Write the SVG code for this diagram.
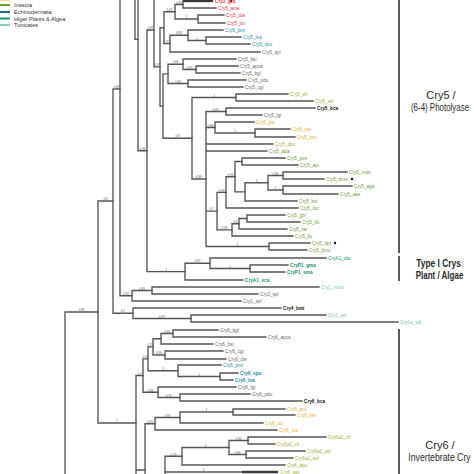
<svg xmlns="http://www.w3.org/2000/svg" width="474" height="474" viewBox="0 0 474 474">
<style>
.t{stroke:#555;stroke-width:1.35;fill:none;stroke-linecap:square}
.thick{stroke:#3a3a3a;stroke-width:2.4;fill:none}
.br{stroke:#4a4a4a;stroke-width:1.8}
text{font-family:"Liberation Sans",Arial,sans-serif}
.lf{font-size:4.7px}
.s{font-size:3px;fill:#555;text-anchor:middle}
.r{fill:#e8344c}.e{fill:#2a8c9c}.g{fill:#6b6b6b}.y{fill:#a9b23a}.o{fill:#e2b23a}.i{fill:#6f9b3e}.p{fill:#17936e}.u{fill:#7cc4a6}.k{fill:#111;font-weight:bold}.b{font-weight:bold}
.lg{font-size:5.6px;fill:#333}
.cl{font-size:11px;fill:#2a2a2a;text-anchor:middle}
.clb{font-size:10px;fill:#2a2a2a;font-weight:bold;text-anchor:middle}
</style>
<rect width="474" height="474" fill="#fff"/>
<g id="legend">
<rect x="0" y="-1" width="10" height="1.6" fill="#d9c86a"/>
<rect x="0" y="4" width="10" height="2" fill="#6f9b3e"/><text class="lg" x="14" y="7">Insecta</text>
<rect x="0" y="11" width="10" height="2" fill="#1d6e7e"/><text class="lg" x="14" y="14">Echinodermata</text>
<rect x="0" y="17.5" width="10" height="2" fill="#17936e"/><text class="lg" x="14" y="20.5">Higer Plants &amp; Algea</text>
<rect x="0" y="24" width="10" height="2" fill="#8ccfae"/><text class="lg" x="14" y="27">Tunicates</text>
</g>
<g id="connectors">
<path class="t" d="M65 312V474M65 312H98"/>
<path class="t" d="M98 201V423M98 201H113M98 423H136"/>
<path class="t" d="M113 89V313.25M113 89H120M113 313.25H133"/>
<path class="t" d="M120 0V295.75M120 295.75H132"/>
<path class="t" d="M135 0V39.4H138"/>
<path class="t" d="M138 0V150.7H147"/>
<path class="t" d="M147 30V271.6M147 30H154M147 271.6H185"/>
<path class="t" d="M154 0V66.9H160"/>
<path class="t" d="M160 27.7V106.1M160 27.7H164M160 106.1H163"/>
<path class="t" d="M164 11.75V43.6M164 11.75H175M164 43.6H170"/>
<path class="t" d="M175 4.5V19M175 4.5H183M175 19H198"/>
<path class="t" d="M183 1V8M183 8H216"/>
<path class="thick" d="M183 1H213"/>
<path class="t" d="M198 15V23M198 15H224M198 23H225"/>
<path class="t" d="M170 35.25V52M170 35.25H188M170 52H260"/>
<path class="t" d="M188 30V40.5M188 30H223M188 40.5H206"/>
<path class="t" d="M206 37V44M206 37H241M206 44H250"/>
<path class="t" d="M163 73.9V138.25M163 73.9H168M163 138.25H192"/>
<path class="t" d="M168 64.25V83.5M168 64.25H183M168 83.5H188"/>
<path class="t" d="M183 59V69.5M183 59H236M183 69.5H196"/>
<path class="t" d="M196 66V73M196 66H238M196 73H240"/>
<path class="t" d="M188 80V87M188 80H246M188 87H243"/>
<path class="t" d="M192 97.5V179M192 97.5H236M192 179H206"/>
<path class="t" d="M236 94V101M236 94H288M236 101H313"/>
<path class="t" d="M206 111.5V246.5M206 111.5H226M206 127.5H215M206 144H273M206 151H267M206 211.1H217M206 246.5H269"/>
<path class="t" d="M226 108V115M226 108H315M226 115H262"/>
<path class="t" d="M215 122V133M215 122H254M215 133H255"/>
<path class="t" d="M255 129V137M255 129H290M255 137H295"/>
<path class="t" d="M217 192.35V229.9M217 192.35H226M217 229.9H232"/>
<path class="t" d="M226 176.7V208M226 176.7H235M226 208H298"/>
<path class="t" d="M235 161.5V191.9M235 161.5H242M235 191.9H245"/>
<path class="t" d="M242 158V165M242 158H285M242 165H298"/>
<path class="t" d="M245 182.75V201M245 182.75H268M245 201H297"/>
<path class="t" d="M268 175.5V190M268 175.5H283M268 190H283"/>
<path class="t" d="M283 172V179M283 172H347M283 179H324"/>
<path class="t" d="M283 186V194M283 186H352M283 194H338"/>
<path class="t" d="M232 223.75V236M232 223.75H239M232 236H293"/>
<path class="t" d="M239 218.5V229M239 218.5H247M239 229H287"/>
<path class="t" d="M247 215V222M247 215H285M247 222H300"/>
<path class="t" d="M269 243V250M269 243H310M269 250H307"/>
<path class="t" d="M185 263.25V280M185 263.25H210M185 280H243"/>
<path class="t" d="M210 258V268.5M210 258H326M210 268.5H250"/>
<path class="t" d="M250 265V272M250 265H288M250 272H285"/>
<path class="t" d="M132 290.5V301M132 290.5H152M132 301H241"/>
<path class="t" d="M152 287V294M152 287H319M152 294H258"/>
<path class="t" d="M133 308V318.5M133 308H281M133 318.5H191"/>
<path class="t" d="M191 315V322M191 315H326M191 322H398"/>
<path class="t" d="M136 375.5V474M136 375.5H143M136 470H145"/>
<path class="t" d="M143 358.8V392.25M143 358.8H148M143 392.25H158"/>
<path class="t" d="M148 346.9V370.75M148 346.9H153M148 370.75H178"/>
<path class="t" d="M153 338.75V355M153 338.75H161M153 355H165"/>
<path class="t" d="M161 333.5V344M161 333.5H173M161 344H213"/>
<path class="t" d="M173 330V337M173 330H218M173 337H266"/>
<path class="t" d="M165 351V359M165 351H223M165 359H226"/>
<path class="t" d="M178 365V376.5M178 365H221M178 376.5H220"/>
<path class="t" d="M220 373V380M220 373H238M220 380H233"/>
<path class="t" d="M158 387V397.5M158 387H236M158 397.5H180"/>
<path class="t" d="M180 394V401M180 394H250M180 401H302"/>
<path class="t" d="M145 423.75V474M145 423.75H155"/>
<path class="t" d="M155 417.5V430M155 417.5H180M155 430H277"/>
<path class="t" d="M180 412V423M180 412H233M180 423H263"/>
<path class="t" d="M233 409V415M233 409H285M233 415H295"/>
<path class="t" d="M165 456.25V474M165 456.25H182M165 472H242"/>
<path class="thick" d="M242 472H278"/>
<path class="t" d="M182 447.5V465M182 447.5H229M182 465H285"/>
<path class="t" d="M229 440.5V454.5M229 440.5H248M229 454.5H246"/>
<path class="t" d="M248 437V444M248 437H326M248 444H275"/>
<path class="t" d="M246 451V458M246 451H305M246 458H293"/>
</g>
<g id="supports">
<text class="s" x="81.5" y="311.2">0.99</text><text class="s" x="105.5" y="200.2">0.9</text><text class="s" x="117" y="422.2">1</text>
<text class="s" x="116.5" y="88.2">0.99</text><text class="s" x="123" y="312.4">0.7</text><text class="s" x="142.5" y="149.9">0.98</text>
<text class="s" x="150.5" y="29.2">0.97</text><text class="s" x="166" y="270.8">1</text><text class="s" x="157" y="66.1">0.97</text>
<text class="s" x="169.5" y="11">0.97</text><text class="s" x="179" y="3.7">0.95</text><text class="s" x="186.5" y="18.2">1</text>
<text class="s" x="167" y="42.8">0.93</text><text class="s" x="179" y="34.4">0.83</text><text class="s" x="197" y="39.7">1</text>
<text class="s" x="175.5" y="63.4">0.96</text><text class="s" x="189.5" y="68.7">0.95</text><text class="s" x="178" y="82.7">0.92</text>
<text class="s" x="177.5" y="137.4">0.9</text><text class="s" x="214" y="96.7">1</text><text class="s" x="199" y="178.2">0.99</text>
<text class="s" x="216" y="110.7">0.81</text><text class="s" x="210.5" y="126.7">0.86</text><text class="s" x="235" y="132.2">1</text>
<text class="s" x="211.5" y="210.3">0.7</text><text class="s" x="221.5" y="191.5">0.93</text><text class="s" x="230.5" y="175.9">0.93</text>
<text class="s" x="256.5" y="182">1</text><text class="s" x="275.5" y="174.7">0.96</text><text class="s" x="275.5" y="189.2">1</text>
<text class="s" x="224.5" y="229.1">0.99</text><text class="s" x="235.5" y="223">0.5</text><text class="s" x="237.5" y="245.7">1</text>
<text class="s" x="197.5" y="262.4">0.97</text><text class="s" x="230" y="267.7">1</text><text class="s" x="126" y="295">0.98</text>
<text class="s" x="142" y="289.7">0.91</text><text class="s" x="162" y="317.7">0.97</text><text class="s" x="139.5" y="374.7">0.7</text>
<text class="s" x="145.5" y="358">0.98</text><text class="s" x="150.5" y="346.1">0.78</text><text class="s" x="167" y="332.7">0.83</text>
<text class="s" x="159" y="354.2">0.99</text><text class="s" x="163" y="370">1</text><text class="s" x="199" y="375.7">1</text>
<text class="s" x="150.5" y="391.5">0.96</text><text class="s" x="169" y="396.7">0.95</text><text class="s" x="150" y="423">0.99</text>
<text class="s" x="167.5" y="416.7">0.95</text><text class="s" x="206.5" y="411.2">1</text><text class="s" x="173.5" y="455.5">0.79</text>
<text class="s" x="205.5" y="446.7">1</text><text class="s" x="238.5" y="439.7">0.99</text><text class="s" x="237.5" y="453.7">0.99</text>
<text class="s" x="203.5" y="471.2">1</text>
</g>
<g id="markers" fill="#111">
<circle cx="231" cy="1" r="1.2"/><circle cx="352" cy="179" r="1.2"/><circle cx="335" cy="243" r="1.2"/>
</g>
<g id="leaves" class="lf">
<g id="cry2_gra"><text class="lf r b" x="215" y="2.7">Cry2_gra</text></g>
<g id="cry5_ame"><text class="lf r" x="218" y="9.7">Cry5_ame</text></g>
<g id="cry5_ola"><text class="lf r" x="226" y="16.7">Cry5_ola</text></g>
<g id="cry5_tru"><text class="lf r" x="227" y="24.7">Cry5_tru</text></g>
<g id="cry5_pmi"><text class="lf e" x="225" y="31.7">Cry5_pmi</text></g>
<g id="cry5_lva"><text class="lf e" x="243" y="38.7">Cry5_lva</text></g>
<g id="cry5_spu"><text class="lf e" x="252" y="45.7">Cry5_spu</text></g>
<g id="cry5_spl"><text class="lf g" x="262" y="53.7">Cry5_spl</text></g>
<g id="cry5_bsi"><text class="lf g" x="238" y="60.7">Cry5_bsi</text></g>
<g id="cry5_apca"><text class="lf g" x="240" y="67.7">Cry5_apca</text></g>
<g id="cry5_bgl"><text class="lf g" x="242" y="74.7">Cry5_bgl</text></g>
<g id="cry5_pdu"><text class="lf g" x="248" y="81.7">Cry5_pdu</text></g>
<g id="cry5_cgi"><text class="lf g" x="245" y="88.7">Cry5_cgi</text></g>
<g id="cry5_efi"><text class="lf y" x="290" y="95.7">Cry5_efi</text></g>
<g id="cry5_ssf"><text class="lf y" x="315" y="102.7">Cry5_ssf</text></g>
<g id="cry5_bca"><text class="lf k" x="317" y="109.7">Cry5_bca</text></g>
<g id="cry5_lgi"><text class="lf g" x="264" y="116.7">Cry5_lgi</text></g>
<g id="cry5_lpo"><text class="lf o" x="256" y="123.7">Cry5_lpo</text></g>
<g id="cry5_ple"><text class="lf o" x="292" y="130.7">Cry5_ple</text></g>
<g id="cry5_smi"><text class="lf o" x="297" y="138.7">Cry5_smi</text></g>
<g id="cry5_dpu"><text class="lf y" x="275" y="145.7">Cry5_dpu</text></g>
<g id="cry5_ada"><text class="lf i" x="269" y="152.7">Cry5_ada</text></g>
<g id="cry5_pve"><text class="lf i" x="287" y="159.7">Cry5_pve</text></g>
<g id="cry5_api"><text class="lf i" x="300" y="166.7">Cry5_api</text></g>
<g id="cry5_mdo"><text class="lf i" x="349" y="173.7">Cry5_mdo</text></g>
<g id="cry5_dme"><text class="lf i" x="326" y="180.7">Cry5_dme</text></g>
<g id="cry5_aga"><text class="lf i" x="354" y="187.7">Cry5_aga</text></g>
<g id="cry5_aae"><text class="lf i" x="340" y="195.7">Cry5_aae</text></g>
<g id="cry5_bvi"><text class="lf i" x="299" y="202.7">Cry5_bvi</text></g>
<g id="cry5_foc"><text class="lf i" x="300" y="209.7">Cry5_foc</text></g>
<g id="cry5_gbi"><text class="lf i" x="287" y="216.7">Cry5_gbi</text></g>
<g id="cry5_ifu"><text class="lf i" x="302" y="223.7">Cry5_ifu</text></g>
<g id="cry5_rar"><text class="lf i" x="289" y="230.7">Cry5_rar</text></g>
<g id="cry5_ilu"><text class="lf i" x="295" y="237.7">Cry5_ilu</text></g>
<g id="cry5_dpl"><text class="lf i" x="312" y="244.7">Cry5_dpl</text></g>
<g id="cry5_bmo"><text class="lf i" x="309" y="251.7">Cry5_bmo</text></g>
<g id="crya1_ola"><text class="lf p" x="328" y="259.7">CryA1_ola</text></g>
<g id="cryp1_gma"><text class="lf p b" x="290" y="266.7">CryP1_gma</text></g>
<g id="cryp1_sma"><text class="lf p b" x="287" y="273.7">CryP1_sma</text></g>
<g id="crya1_vca"><text class="lf p b" x="245" y="281.7">CryA1_vca</text></g>
<g id="cry1_mmo"><text class="lf u" x="321" y="288.7">Cry1_mmo</text></g>
<g id="cry2_spl"><text class="lf g" x="260" y="295.7">Cry2_spl</text></g>
<g id="cry1_spl"><text class="lf g" x="243" y="302.7">Cry1_spl</text></g>
<g id="cry4_bmi"><text class="lf k" x="283" y="309.7">Cry4_bmi</text></g>
<g id="cry1_sdi"><text class="lf u" x="328" y="316.7">Cry1_sdi</text></g>
<g id="cry1a_sdi"><text class="lf u" x="400" y="323.7">Cry1a_sdi</text></g>
<g id="cry6_bgl"><text class="lf g" x="220" y="331.7">Cry6_bgl</text></g>
<g id="cry6_apca"><text class="lf g" x="268" y="338.7">Cry6_apca</text></g>
<g id="cry6_bsi"><text class="lf g" x="215" y="345.7">Cry6_bsi</text></g>
<g id="cry6_cgi"><text class="lf g" x="225" y="352.7">Cry6_cgi</text></g>
<g id="cry6_cle"><text class="lf g" x="228" y="360.7">Cry6_cle</text></g>
<g id="cry6_pmi"><text class="lf e" x="223" y="366.7">Cry6_pmi</text></g>
<g id="cry6_spu"><text class="lf e b" x="240" y="374.7">Cry6_spu</text></g>
<g id="cry6_lva"><text class="lf e b" x="235" y="381.7">Cry6_lva</text></g>
<g id="cry6_lgi"><text class="lf g" x="238" y="388.7">Cry6_lgi</text></g>
<g id="cry6_pdu"><text class="lf g" x="252" y="395.7">Cry6_pdu</text></g>
<g id="cry6_bca"><text class="lf k" x="304" y="402.7">Cry6_bca</text></g>
<g id="cry6_ami"><text class="lf o" x="287" y="410.7">Cry6_ami</text></g>
<g id="cry6_ple"><text class="lf o" x="297" y="416.7">Cry6_ple</text></g>
<g id="cry6_tur"><text class="lf o" x="265" y="424.7">Cry6_tur</text></g>
<g id="cry6_lsa"><text class="lf o" x="279" y="431.7">Cry6_lsa</text></g>
<g id="cry6a2_cfi"><text class="lf y" x="328" y="438.7">Cry6a2_cfi</text></g>
<g id="cry6a1_cfi"><text class="lf y" x="277" y="445.7">Cry6a1_cfi</text></g>
<g id="cry6a2_ssf"><text class="lf y" x="307" y="452.7">Cry6a2_ssf</text></g>
<g id="cry6a1_ssf"><text class="lf y" x="295" y="459.7">Cry6a1_ssf</text></g>
<g id="cry6_dpu"><text class="lf y" x="287" y="466.7">Cry6_dpu</text></g>
<g id="cry6_sax"><text class="lf y" x="280" y="473.5">Cry6_sax</text></g>
</g>
<g id="clade-cry5">
<line class="br" x1="399" y1="0" x2="399" y2="253"/>
<text class="cl" x="441" y="99">Cry5 /</text>
<text class="cl" transform="translate(440 111) scale(0.72 1)" x="0" y="0">(6-4) Photolyase</text>
</g>
<g id="clade-type1">
<line class="br" x1="399" y1="256" x2="399" y2="281"/>
<text class="clb" transform="translate(438.5 266.5) scale(0.84 1)" x="0" y="0">Type I Crys</text>
<text class="clb" transform="translate(439.5 278.5) scale(0.8 1)" x="0" y="0">Plant / Algae</text>
</g>
<g id="clade-cry6">
<line class="br" x1="399" y1="329" x2="399" y2="474"/>
<text class="cl" x="440" y="448.5">Cry6 /</text>
<text class="cl" transform="translate(439.5 460.5) scale(0.79 1)" x="0" y="0">Invertebrate Cry</text>
</g>
</svg>
